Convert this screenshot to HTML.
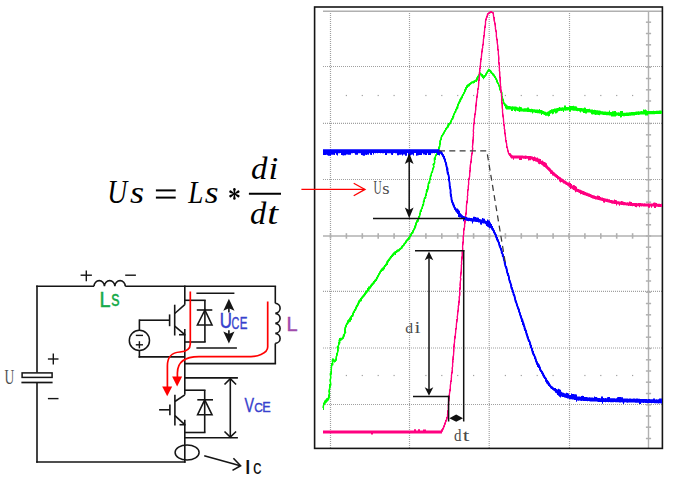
<!DOCTYPE html>
<html><head><meta charset="utf-8"><style>
html,body{margin:0;padding:0;background:#fff;width:684px;height:482px;overflow:hidden;}
svg{display:block;font-family:"Liberation Sans",sans-serif;}
</style></head><body>
<svg width="684" height="482" viewBox="0 0 684 482">
<line x1="330.5" y1="13" x2="330.5" y2="448" stroke="#a0a0a0" stroke-width="1.2" stroke-dasharray="1 1"/>
<line x1="409.5" y1="13" x2="409.5" y2="448" stroke="#a0a0a0" stroke-width="1.2" stroke-dasharray="1 1"/>
<line x1="489.2" y1="13" x2="489.2" y2="448" stroke="#a0a0a0" stroke-width="1.2" stroke-dasharray="1 1"/>
<line x1="569.5" y1="13" x2="569.5" y2="448" stroke="#a0a0a0" stroke-width="1.2" stroke-dasharray="1 1"/>
<line x1="323" y1="66.5" x2="662" y2="66.5" stroke="#a0a0a0" stroke-width="1.2" stroke-dasharray="1 1"/>
<line x1="323" y1="123.3" x2="662" y2="123.3" stroke="#a0a0a0" stroke-width="1.2" stroke-dasharray="1 1"/>
<line x1="323" y1="179.5" x2="662" y2="179.5" stroke="#a0a0a0" stroke-width="1.2" stroke-dasharray="1 1"/>
<line x1="323" y1="291.4" x2="662" y2="291.4" stroke="#a0a0a0" stroke-width="1.2" stroke-dasharray="1 1"/>
<line x1="323" y1="348.0" x2="662" y2="348.0" stroke="#a0a0a0" stroke-width="1.2" stroke-dasharray="1 1"/>
<line x1="323" y1="404.5" x2="662" y2="404.5" stroke="#a0a0a0" stroke-width="1.2" stroke-dasharray="1 1"/>
<line x1="323" y1="11.3" x2="662" y2="11.3" stroke="#b0b0b0" stroke-width="1.4"/>
<line x1="323" y1="235.9" x2="662" y2="235.9" stroke="#b0b0b0" stroke-width="1.5"/>
<line x1="330.5" y1="233.2" x2="330.5" y2="238.7" stroke="#b0b0b0" stroke-width="1.6"/>
<line x1="346.4" y1="233.2" x2="346.4" y2="238.7" stroke="#b0b0b0" stroke-width="1.6"/>
<line x1="362.3" y1="233.2" x2="362.3" y2="238.7" stroke="#b0b0b0" stroke-width="1.6"/>
<line x1="378.2" y1="233.2" x2="378.2" y2="238.7" stroke="#b0b0b0" stroke-width="1.6"/>
<line x1="394.1" y1="233.2" x2="394.1" y2="238.7" stroke="#b0b0b0" stroke-width="1.6"/>
<line x1="410.0" y1="233.2" x2="410.0" y2="238.7" stroke="#b0b0b0" stroke-width="1.6"/>
<line x1="425.9" y1="233.2" x2="425.9" y2="238.7" stroke="#b0b0b0" stroke-width="1.6"/>
<line x1="441.8" y1="233.2" x2="441.8" y2="238.7" stroke="#b0b0b0" stroke-width="1.6"/>
<line x1="457.7" y1="233.2" x2="457.7" y2="238.7" stroke="#b0b0b0" stroke-width="1.6"/>
<line x1="473.6" y1="233.2" x2="473.6" y2="238.7" stroke="#b0b0b0" stroke-width="1.6"/>
<line x1="489.5" y1="233.2" x2="489.5" y2="238.7" stroke="#b0b0b0" stroke-width="1.6"/>
<line x1="505.4" y1="233.2" x2="505.4" y2="238.7" stroke="#b0b0b0" stroke-width="1.6"/>
<line x1="521.3" y1="233.2" x2="521.3" y2="238.7" stroke="#b0b0b0" stroke-width="1.6"/>
<line x1="537.2" y1="233.2" x2="537.2" y2="238.7" stroke="#b0b0b0" stroke-width="1.6"/>
<line x1="553.1" y1="233.2" x2="553.1" y2="238.7" stroke="#b0b0b0" stroke-width="1.6"/>
<line x1="569.0" y1="233.2" x2="569.0" y2="238.7" stroke="#b0b0b0" stroke-width="1.6"/>
<line x1="584.9" y1="233.2" x2="584.9" y2="238.7" stroke="#b0b0b0" stroke-width="1.6"/>
<line x1="600.8" y1="233.2" x2="600.8" y2="238.7" stroke="#b0b0b0" stroke-width="1.6"/>
<line x1="616.7" y1="233.2" x2="616.7" y2="238.7" stroke="#b0b0b0" stroke-width="1.6"/>
<line x1="632.6" y1="233.2" x2="632.6" y2="238.7" stroke="#b0b0b0" stroke-width="1.6"/>
<line x1="648.5" y1="11" x2="648.5" y2="448" stroke="#b0b0b0" stroke-width="1.4"/>
<line x1="645.9" y1="22.2" x2="651.1" y2="22.2" stroke="#b0b0b0" stroke-width="1.5"/>
<line x1="645.9" y1="33.5" x2="651.1" y2="33.5" stroke="#b0b0b0" stroke-width="1.5"/>
<line x1="645.9" y1="44.8" x2="651.1" y2="44.8" stroke="#b0b0b0" stroke-width="1.5"/>
<line x1="645.9" y1="56.0" x2="651.1" y2="56.0" stroke="#b0b0b0" stroke-width="1.5"/>
<line x1="645.9" y1="67.2" x2="651.1" y2="67.2" stroke="#b0b0b0" stroke-width="1.5"/>
<line x1="645.9" y1="78.5" x2="651.1" y2="78.5" stroke="#b0b0b0" stroke-width="1.5"/>
<line x1="645.9" y1="89.8" x2="651.1" y2="89.8" stroke="#b0b0b0" stroke-width="1.5"/>
<line x1="645.9" y1="101.0" x2="651.1" y2="101.0" stroke="#b0b0b0" stroke-width="1.5"/>
<line x1="645.9" y1="112.2" x2="651.1" y2="112.2" stroke="#b0b0b0" stroke-width="1.5"/>
<line x1="645.9" y1="123.5" x2="651.1" y2="123.5" stroke="#b0b0b0" stroke-width="1.5"/>
<line x1="645.9" y1="134.8" x2="651.1" y2="134.8" stroke="#b0b0b0" stroke-width="1.5"/>
<line x1="645.9" y1="146.0" x2="651.1" y2="146.0" stroke="#b0b0b0" stroke-width="1.5"/>
<line x1="645.9" y1="157.2" x2="651.1" y2="157.2" stroke="#b0b0b0" stroke-width="1.5"/>
<line x1="645.9" y1="168.5" x2="651.1" y2="168.5" stroke="#b0b0b0" stroke-width="1.5"/>
<line x1="645.9" y1="179.8" x2="651.1" y2="179.8" stroke="#b0b0b0" stroke-width="1.5"/>
<line x1="645.9" y1="191.0" x2="651.1" y2="191.0" stroke="#b0b0b0" stroke-width="1.5"/>
<line x1="645.9" y1="202.2" x2="651.1" y2="202.2" stroke="#b0b0b0" stroke-width="1.5"/>
<line x1="645.9" y1="213.5" x2="651.1" y2="213.5" stroke="#b0b0b0" stroke-width="1.5"/>
<line x1="645.9" y1="224.8" x2="651.1" y2="224.8" stroke="#b0b0b0" stroke-width="1.5"/>
<line x1="645.9" y1="236.0" x2="651.1" y2="236.0" stroke="#b0b0b0" stroke-width="1.5"/>
<line x1="645.9" y1="247.2" x2="651.1" y2="247.2" stroke="#b0b0b0" stroke-width="1.5"/>
<line x1="645.9" y1="258.5" x2="651.1" y2="258.5" stroke="#b0b0b0" stroke-width="1.5"/>
<line x1="645.9" y1="269.8" x2="651.1" y2="269.8" stroke="#b0b0b0" stroke-width="1.5"/>
<line x1="645.9" y1="281.0" x2="651.1" y2="281.0" stroke="#b0b0b0" stroke-width="1.5"/>
<line x1="645.9" y1="292.2" x2="651.1" y2="292.2" stroke="#b0b0b0" stroke-width="1.5"/>
<line x1="645.9" y1="303.5" x2="651.1" y2="303.5" stroke="#b0b0b0" stroke-width="1.5"/>
<line x1="645.9" y1="314.8" x2="651.1" y2="314.8" stroke="#b0b0b0" stroke-width="1.5"/>
<line x1="645.9" y1="326.0" x2="651.1" y2="326.0" stroke="#b0b0b0" stroke-width="1.5"/>
<line x1="645.9" y1="337.2" x2="651.1" y2="337.2" stroke="#b0b0b0" stroke-width="1.5"/>
<line x1="645.9" y1="348.5" x2="651.1" y2="348.5" stroke="#b0b0b0" stroke-width="1.5"/>
<line x1="645.9" y1="359.8" x2="651.1" y2="359.8" stroke="#b0b0b0" stroke-width="1.5"/>
<line x1="645.9" y1="371.0" x2="651.1" y2="371.0" stroke="#b0b0b0" stroke-width="1.5"/>
<line x1="645.9" y1="382.2" x2="651.1" y2="382.2" stroke="#b0b0b0" stroke-width="1.5"/>
<line x1="645.9" y1="393.5" x2="651.1" y2="393.5" stroke="#b0b0b0" stroke-width="1.5"/>
<line x1="645.9" y1="404.8" x2="651.1" y2="404.8" stroke="#b0b0b0" stroke-width="1.5"/>
<line x1="645.9" y1="416.0" x2="651.1" y2="416.0" stroke="#b0b0b0" stroke-width="1.5"/>
<line x1="645.9" y1="427.2" x2="651.1" y2="427.2" stroke="#b0b0b0" stroke-width="1.5"/>
<line x1="645.9" y1="438.5" x2="651.1" y2="438.5" stroke="#b0b0b0" stroke-width="1.5"/>
<rect x="345.8" y="94.9" width="1.2" height="1.2" fill="#a0a0a0"/>
<rect x="361.7" y="94.9" width="1.2" height="1.2" fill="#a0a0a0"/>
<rect x="377.6" y="94.9" width="1.2" height="1.2" fill="#a0a0a0"/>
<rect x="393.5" y="94.9" width="1.2" height="1.2" fill="#a0a0a0"/>
<rect x="425.3" y="94.9" width="1.2" height="1.2" fill="#a0a0a0"/>
<rect x="441.2" y="94.9" width="1.2" height="1.2" fill="#a0a0a0"/>
<rect x="457.1" y="94.9" width="1.2" height="1.2" fill="#a0a0a0"/>
<rect x="473.0" y="94.9" width="1.2" height="1.2" fill="#a0a0a0"/>
<rect x="504.8" y="94.9" width="1.2" height="1.2" fill="#a0a0a0"/>
<rect x="520.7" y="94.9" width="1.2" height="1.2" fill="#a0a0a0"/>
<rect x="536.6" y="94.9" width="1.2" height="1.2" fill="#a0a0a0"/>
<rect x="552.5" y="94.9" width="1.2" height="1.2" fill="#a0a0a0"/>
<rect x="584.3" y="94.9" width="1.2" height="1.2" fill="#a0a0a0"/>
<rect x="600.2" y="94.9" width="1.2" height="1.2" fill="#a0a0a0"/>
<rect x="616.1" y="94.9" width="1.2" height="1.2" fill="#a0a0a0"/>
<rect x="632.0" y="94.9" width="1.2" height="1.2" fill="#a0a0a0"/>
<rect x="345.8" y="374.9" width="1.2" height="1.2" fill="#a0a0a0"/>
<rect x="361.7" y="374.9" width="1.2" height="1.2" fill="#a0a0a0"/>
<rect x="377.6" y="374.9" width="1.2" height="1.2" fill="#a0a0a0"/>
<rect x="393.5" y="374.9" width="1.2" height="1.2" fill="#a0a0a0"/>
<rect x="425.3" y="374.9" width="1.2" height="1.2" fill="#a0a0a0"/>
<rect x="441.2" y="374.9" width="1.2" height="1.2" fill="#a0a0a0"/>
<rect x="457.1" y="374.9" width="1.2" height="1.2" fill="#a0a0a0"/>
<rect x="473.0" y="374.9" width="1.2" height="1.2" fill="#a0a0a0"/>
<rect x="504.8" y="374.9" width="1.2" height="1.2" fill="#a0a0a0"/>
<rect x="520.7" y="374.9" width="1.2" height="1.2" fill="#a0a0a0"/>
<rect x="536.6" y="374.9" width="1.2" height="1.2" fill="#a0a0a0"/>
<rect x="552.5" y="374.9" width="1.2" height="1.2" fill="#a0a0a0"/>
<rect x="584.3" y="374.9" width="1.2" height="1.2" fill="#a0a0a0"/>
<rect x="600.2" y="374.9" width="1.2" height="1.2" fill="#a0a0a0"/>
<rect x="616.1" y="374.9" width="1.2" height="1.2" fill="#a0a0a0"/>
<rect x="632.0" y="374.9" width="1.2" height="1.2" fill="#a0a0a0"/>
<rect x="314.6" y="7.0" width="347.8" height="441.4" fill="none" stroke="#151515" stroke-width="1.6"/>
<path d="M323,402.6h1V410.1h-1zM324,400.5h1V404.7h-1zM325,399.4h1V403.5h-1zM326,398.3h1V402.5h-1zM327,397.7h1V401.5h-1zM328,395.0h1V400.6h-1zM329,384.0h1V397.7h-1zM330,372.6h1V386.8h-1zM331,362.9h1V374.7h-1zM332,358.4h1V364.9h-1zM333,358.5h1V361.8h-1zM334,359.6h1V362.5h-1zM335,358.5h1V361.9h-1zM336,353.1h1V360.7h-1zM337,346.7h1V355.1h-1zM338,341.7h1V348.7h-1zM339,338.0h1V344.0h-1zM340,337.8h1V341.1h-1zM341,337.7h1V340.5h-1zM342,336.6h1V339.6h-1zM343,334.3h1V338.8h-1zM344,330.5h1V336.5h-1zM345,325.0h1V332.5h-1zM346,322.7h1V327.2h-1zM347,320.2h1V324.8h-1zM348,319.2h1V323.5h-1zM349,317.8h1V322.3h-1zM350,316.8h1V321.8h-1zM351,315.0h1V319.9h-1zM352,313.0h1V317.0h-1zM353,310.8h1V314.9h-1zM354,308.9h1V313.0h-1zM355,307.0h1V310.9h-1zM356,305.0h1V309.0h-1zM357,303.3h1V307.3h-1zM358,300.6h1V305.4h-1zM359,299.6h1V303.6h-1zM360,297.9h1V301.7h-1zM361,296.8h1V301.2h-1zM362,295.6h1V298.8h-1zM363,294.3h1V297.6h-1zM364,293.0h1V296.3h-1zM365,290.7h1V295.0h-1zM366,290.2h1V293.7h-1zM367,287.9h1V292.4h-1zM368,286.5h1V291.0h-1zM369,286.2h1V289.6h-1zM370,284.7h1V288.4h-1zM371,283.5h1V287.0h-1zM372,282.4h1V285.8h-1zM373,281.1h1V284.6h-1zM374,280.0h1V283.2h-1zM375,278.9h1V282.0h-1zM376,277.1h1V280.9h-1zM377,275.2h1V279.3h-1zM378,273.3h1V277.3h-1zM379,271.4h1V275.3h-1zM380,270.2h1V273.5h-1zM381,268.7h1V272.0h-1zM382,267.5h1V271.0h-1zM383,266.5h1V270.4h-1zM384,265.0h1V269.3h-1zM385,263.8h1V267.0h-1zM386,262.2h1V265.8h-1zM387,260.6h1V265.1h-1zM388,259.1h1V262.6h-1zM389,257.4h1V261.0h-1zM390,256.1h1V259.5h-1zM391,254.8h1V258.2h-1zM392,253.5h1V256.9h-1zM393,252.5h1V255.6h-1zM394,251.4h1V254.3h-1zM395,251.1h1V254.9h-1zM396,250.3h1V253.1h-1zM397,249.7h1V252.3h-1zM398,249.2h1V251.8h-1zM399,248.2h1V251.3h-1zM400,247.4h1V250.0h-1zM401,246.2h1V249.0h-1zM402,245.0h1V247.8h-1zM403,243.6h1V246.4h-1zM404,242.4h1V245.4h-1zM405,241.1h1V244.1h-1zM406,239.6h1V242.7h-1zM407,238.2h1V241.2h-1zM408,236.9h1V240.0h-1zM409,235.4h1V238.5h-1zM410,233.8h1V237.0h-1zM411,232.1h1V235.4h-1zM412,230.2h1V233.6h-1zM413,228.6h1V231.9h-1zM414,225.4h1V230.2h-1zM415,222.8h1V227.8h-1zM416,220.3h1V225.2h-1zM417,218.5h1V222.6h-1zM418,215.9h1V220.1h-1zM419,213.1h1V217.5h-1zM420,210.3h1V214.7h-1zM421,207.6h1V212.0h-1zM422,204.1h1V209.1h-1zM423,200.6h1V205.8h-1zM424,197.1h1V202.2h-1zM425,193.7h1V198.8h-1zM426,189.1h1V195.9h-1zM427,185.4h1V192.3h-1zM428,181.4h1V187.6h-1zM429,178.3h1V183.6h-1zM430,175.0h1V179.8h-1zM431,171.6h1V176.5h-1zM432,167.8h1V173.1h-1zM433,163.2h1V169.5h-1zM434,158.5h1V164.8h-1zM435,154.4h1V160.0h-1zM436,152.3h1V156.0h-1zM437,150.3h1V153.9h-1zM438,146.5h1V151.9h-1zM439,142.4h1V148.9h-1zM440,138.4h1V144.8h-1zM441,135.0h1V139.9h-1zM442,133.4h1V136.6h-1zM443,131.7h1V135.0h-1zM444,129.9h1V133.3h-1zM445,128.1h1V131.5h-1zM446,126.7h1V129.8h-1zM447,124.4h1V128.2h-1zM448,123.1h1V126.8h-1zM449,122.6h1V125.5h-1zM450,120.4h1V124.2h-1zM451,118.2h1V122.0h-1zM452,115.8h1V119.6h-1zM453,113.5h1V117.5h-1zM454,111.3h1V115.1h-1zM455,108.9h1V112.9h-1zM456,106.5h1V110.5h-1zM457,103.7h1V109.2h-1zM458,101.6h1V105.9h-1zM459,99.5h1V103.8h-1zM460,97.4h1V101.8h-1zM461,96.2h1V99.7h-1zM462,94.3h1V97.9h-1zM463,92.2h1V95.7h-1zM464,89.2h1V93.7h-1zM465,87.2h1V91.8h-1zM466,85.2h1V89.8h-1zM467,84.4h1V87.9h-1zM468,83.7h1V86.8h-1zM469,82.9h1V86.2h-1zM470,82.3h1V84.5h-1zM471,81.6h1V83.9h-1zM472,81.2h1V83.2h-1zM473,80.7h1V83.6h-1zM474,80.2h1V83.1h-1zM475,79.7h1V81.8h-1zM476,77.6h1V81.9h-1zM477,75.7h1V80.5h-1zM478,74.2h1V78.5h-1zM479,72.3h1V75.9h-1zM480,72.4h1V75.2h-1zM481,73.6h1V76.6h-1zM482,73.9h1V77.9h-1zM483,75.3h1V79.3h-1zM484,74.9h1V77.9h-1zM485,73.4h1V76.5h-1zM486,71.8h1V75.0h-1zM487,70.4h1V73.4h-1zM488,68.8h1V71.9h-1zM489,68.9h1V71.7h-1zM490,70.0h1V72.9h-1zM491,71.3h1V74.1h-1zM492,72.5h1V75.4h-1zM493,73.6h1V76.4h-1zM494,75.0h1V78.0h-1zM495,76.2h1V79.8h-1zM496,78.3h1V81.9h-1zM497,80.3h1V84.0h-1zM498,82.4h1V86.5h-1zM499,84.9h1V89.5h-1zM500,88.0h1V92.7h-1zM501,91.2h1V97.1h-1zM502,95.7h1V100.9h-1zM503,99.2h1V104.1h-1zM504,102.4h1V106.0h-1zM505,103.5h1V108.4h-1zM506,104.4h1V109.4h-1zM507,105.4h1V109.6h-1zM508,106.1h1V109.5h-1zM509,106.1h1V109.5h-1zM510,106.3h1V109.5h-1zM511,106.4h1V110.9h-1zM512,106.2h1V111.1h-1zM513,106.4h1V109.8h-1zM514,106.5h1V111.0h-1zM515,106.5h1V111.6h-1zM516,106.8h1V110.6h-1zM517,107.2h1V110.9h-1zM518,107.6h1V111.2h-1zM519,106.6h1V112.0h-1zM520,106.9h1V111.5h-1zM521,107.2h1V111.6h-1zM522,108.5h1V111.6h-1zM523,108.5h1V111.7h-1zM524,108.3h1V111.7h-1zM525,108.3h1V111.8h-1zM526,108.3h1V111.7h-1zM527,107.6h1V111.9h-1zM528,107.5h1V112.1h-1zM529,108.7h1V112.1h-1zM530,108.9h1V112.3h-1zM531,108.7h1V112.2h-1zM532,108.9h1V113.6h-1zM533,109.2h1V112.5h-1zM534,109.3h1V112.6h-1zM535,109.5h1V113.0h-1zM536,109.6h1V113.0h-1zM537,109.6h1V113.2h-1zM538,109.8h1V113.2h-1zM539,109.0h1V113.5h-1zM540,110.1h1V113.5h-1zM541,110.1h1V115.0h-1zM542,110.4h1V114.1h-1zM543,110.9h1V114.6h-1zM544,111.5h1V115.0h-1zM545,111.8h1V115.8h-1zM546,112.3h1V115.8h-1zM547,111.7h1V115.7h-1zM548,111.2h1V116.4h-1zM549,110.4h1V115.9h-1zM550,110.0h1V113.8h-1zM551,109.3h1V113.2h-1zM552,109.2h1V114.2h-1zM553,108.9h1V113.7h-1zM554,108.6h1V112.2h-1zM555,108.4h1V113.5h-1zM556,108.2h1V113.2h-1zM557,107.9h1V112.5h-1zM558,107.7h1V111.2h-1zM559,106.9h1V111.0h-1zM560,107.5h1V110.8h-1zM561,107.4h1V110.9h-1zM562,107.3h1V110.8h-1zM563,107.4h1V111.9h-1zM564,105.5h1V110.6h-1zM565,105.6h1V110.7h-1zM566,107.1h1V110.6h-1zM567,107.0h1V110.4h-1zM568,106.9h1V110.3h-1zM569,105.9h1V111.8h-1zM570,106.0h1V111.8h-1zM571,106.1h1V110.3h-1zM572,106.0h1V110.4h-1zM573,105.7h1V110.7h-1zM574,106.2h1V110.8h-1zM575,106.3h1V110.8h-1zM576,106.4h1V111.0h-1zM577,107.7h1V111.2h-1zM578,107.9h1V111.1h-1zM579,107.9h1V111.4h-1zM580,108.1h1V112.4h-1zM581,108.0h1V111.6h-1zM582,108.3h1V111.7h-1zM583,108.3h1V113.0h-1zM584,107.4h1V113.1h-1zM585,107.7h1V113.6h-1zM586,108.9h1V113.6h-1zM587,108.9h1V112.4h-1zM588,108.9h1V112.5h-1zM589,108.7h1V112.5h-1zM590,109.4h1V112.7h-1zM591,109.4h1V114.3h-1zM592,109.6h1V114.4h-1zM593,109.9h1V114.2h-1zM594,109.8h1V114.4h-1zM595,110.0h1V114.9h-1zM596,110.2h1V114.7h-1zM597,110.3h1V114.8h-1zM598,110.4h1V114.9h-1zM599,110.6h1V115.2h-1zM600,110.8h1V114.5h-1zM601,111.2h1V114.5h-1zM602,111.3h1V114.7h-1zM603,111.4h1V114.9h-1zM604,111.6h1V114.9h-1zM605,111.5h1V114.9h-1zM606,111.8h1V115.2h-1zM607,111.8h1V115.2h-1zM608,111.7h1V115.2h-1zM609,110.5h1V115.4h-1zM610,112.0h1V115.4h-1zM611,111.9h1V116.6h-1zM612,111.3h1V116.6h-1zM613,111.3h1V116.5h-1zM614,111.0h1V116.5h-1zM615,110.9h1V116.5h-1zM616,112.3h1V115.7h-1zM617,112.4h1V115.6h-1zM618,112.3h1V115.9h-1zM619,112.5h1V115.9h-1zM620,111.0h1V117.4h-1zM621,111.0h1V117.2h-1zM622,111.0h1V115.9h-1zM623,112.7h1V116.2h-1zM624,112.8h1V116.2h-1zM625,112.8h1V116.0h-1zM626,112.6h1V116.1h-1zM627,112.4h1V116.0h-1zM628,112.4h1V116.0h-1zM629,112.2h1V115.7h-1zM630,112.2h1V115.7h-1zM631,112.1h1V115.5h-1zM632,112.0h1V115.4h-1zM633,112.1h1V115.5h-1zM634,111.9h1V115.4h-1zM635,111.7h1V115.1h-1zM636,111.6h1V114.9h-1zM637,111.5h1V114.8h-1zM638,111.3h1V115.0h-1zM639,111.4h1V114.7h-1zM640,111.2h1V114.5h-1zM641,111.1h1V114.6h-1zM642,111.3h1V114.6h-1zM643,109.6h1V114.5h-1zM644,109.7h1V114.5h-1zM645,109.5h1V115.4h-1zM646,110.3h1V115.4h-1zM647,110.9h1V115.4h-1zM648,110.9h1V114.3h-1zM649,111.0h1V114.2h-1zM650,111.1h1V114.2h-1zM651,110.9h1V114.2h-1zM652,110.9h1V114.2h-1zM653,110.8h1V114.3h-1zM654,110.9h1V114.3h-1zM655,110.9h1V114.1h-1zM656,110.7h1V114.1h-1zM657,110.8h1V113.9h-1zM658,110.8h1V114.0h-1zM659,110.5h1V114.0h-1zM660,110.6h1V114.0h-1zM661,110.7h1V113.8h-1z" fill="#00ff00"/>
<polyline points="323.0,408.0 323.4,405.9 324.0,403.7 326.0,402.0 326.9,400.4 328.8,398.8 329.0,397.1 328.7,395.2 329.5,393.8 328.9,391.3 329.1,390.2 329.8,388.0 330.2,385.5 330.8,385.0 330.5,382.7 330.0,380.1 330.7,378.3 330.8,377.1 330.5,375.1 330.3,373.8 331.0,372.7 331.2,370.8 331.3,369.2 331.4,367.3 331.6,365.4 332.7,364.8 332.7,362.9 332.3,360.6 332.8,359.4 334.7,361.4 336.1,359.4 336.1,356.8 337.1,355.3 337.1,353.5 337.9,351.4 338.3,350.0 337.3,347.2 338.3,345.6 339.3,343.8 339.9,342.0 339.1,340.6 340.1,338.7 342.6,338.7 343.7,336.7 343.4,335.2 344.6,333.8 345.6,332.4 344.7,329.9 345.0,327.8 346.3,326.2 346.2,324.9 347.3,323.5 347.8,322.6 348.7,321.1 350.2,319.6 350.4,318.0 351.2,316.4 353.0,315.7 352.8,314.3 353.4,312.2 354.5,310.9 355.8,309.5 355.6,308.5 356.6,305.9 358.2,304.4 358.4,302.5 358.9,301.7 360.3,300.0 361.0,298.7 362.3,297.1 364.2,295.7 364.8,294.8 365.4,292.4 366.9,291.5 368.6,290.4 368.7,288.0 370.5,287.5 371.3,285.4 372.1,284.6 374.3,282.6 374.9,280.5 376.3,279.6 376.4,278.8 377.4,277.0 378.2,275.7 379.4,273.6 380.0,272.4 380.7,271.2 381.7,269.1 383.6,268.5 384.8,266.3 385.8,265.1 387.3,263.3 386.9,262.0 388.4,260.3 388.9,259.4 390.2,258.2 391.3,256.4 392.1,256.1 393.9,254.5 394.3,253.0 396.3,252.1 397.3,250.3 399.5,249.9 399.9,249.2 401.9,248.1 401.9,246.4 403.6,245.3 404.7,243.7 405.5,242.9 406.2,240.8 408.2,239.9 409.2,238.1 409.9,236.4 411.2,235.5 411.4,233.8 413.0,232.6 413.1,231.0 414.1,229.2 415.3,227.6 415.6,225.6 416.3,224.2 416.2,222.5 418.2,221.1 418.2,218.8 419.2,216.9 419.8,215.4 420.0,214.1 420.2,212.2 420.7,210.3 422.0,208.4 422.4,206.5 423.2,205.3 423.5,204.3 423.5,201.5 424.0,200.8 424.3,198.6 425.7,197.7 425.5,196.5 425.8,194.6 426.5,192.8 426.5,190.9 427.8,189.8 428.4,187.3 428.4,185.5 428.2,183.9 429.6,182.7 429.6,180.4 430.4,179.3 430.3,176.5 431.1,174.9 431.3,173.3 432.4,171.7 432.7,170.0 432.8,168.9 434.1,166.7 433.1,164.5 434.6,163.0 434.7,162.1 434.5,160.8 434.4,158.3 435.4,156.5 435.8,155.6 437.0,153.6 436.8,151.8 438.1,150.8 438.7,149.1 439.1,147.8 439.7,146.6 440.0,144.0 440.1,142.4 439.8,141.2 441.2,139.2 441.0,137.8 441.7,136.4 442.9,134.8 443.8,133.4 444.4,131.8 446.1,129.2 446.5,128.1 448.3,126.8 448.4,124.8 450.1,123.3 451.0,122.2 451.4,120.1 452.8,118.7 453.6,116.6 453.7,115.0 454.6,113.0 455.4,112.4 455.9,110.7 456.0,109.4 457.7,108.0 457.8,106.1 458.4,104.2 458.9,103.2 460.5,100.8 460.2,99.3 461.7,98.2 462.4,95.5 463.2,94.6 464.4,92.4 465.2,91.0 465.4,90.3 465.9,87.8 467.2,87.0 468.0,85.1 470.3,84.2 471.6,82.7 473.8,81.9 475.4,80.5 476.4,80.3 476.7,78.9 477.5,77.7 478.8,76.0 479.8,74.6 480.0,73.1 480.9,74.5 482.8,76.9 483.5,77.9 484.0,77.0 486.0,75.2 486.4,73.3 487.2,72.4 488.2,70.3 489.0,69.6 490.8,71.0 491.2,72.9 492.6,73.8 493.9,74.7 494.8,76.7 495.6,78.0 496.9,80.2 496.6,81.0 497.2,82.4 498.4,83.9 499.4,86.3 499.6,87.2 499.8,89.5 500.8,91.1 501.8,92.4 502.0,94.0 501.6,96.0 502.4,98.2 503.3,100.0 503.5,102.4 504.3,104.2 505.5,106.0 506.7,107.8 508.5,107.8 510.3,107.9 512.1,108.0 513.9,108.0 515.7,108.5 517.5,109.0 519.3,109.5 521.1,110.0 522.9,110.0 524.7,110.1 526.5,110.2 528.3,110.2 530.2,110.4 532.1,110.7 534.0,110.9 535.9,111.2 537.8,111.4 539.9,111.7 542.0,112.0 543.5,112.8 545.0,113.5 546.5,114.3 547.9,113.5 549.2,112.7 550.6,111.8 552.0,111.0 554.0,110.5 556.0,110.0 558.0,109.5 559.7,109.4 561.4,109.2 563.1,109.1 564.9,108.9 566.6,108.8 568.3,108.6 570.0,108.5 571.7,108.7 573.4,108.9 575.1,109.1 576.8,109.3 578.5,109.5 580.2,109.7 581.9,109.9 583.6,110.1 585.3,110.3 587.0,110.5 588.6,110.8 590.3,111.0 591.9,111.3 593.5,111.5 595.2,111.8 596.8,112.0 598.5,112.3 600.1,112.5 601.7,112.8 603.4,113.0 605.0,113.3 606.7,113.4 608.3,113.5 610.0,113.6 611.7,113.7 613.3,113.8 615.0,113.9 616.7,114.0 618.3,114.1 620.0,114.2 621.7,114.3 623.3,114.4 625.0,114.5 626.7,114.3 628.3,114.2 630.0,114.0 631.7,113.8 633.3,113.7 635.0,113.5 636.7,113.3 638.3,113.2 640.0,113.0 641.7,112.9 643.3,112.9 645.0,112.8 646.6,112.8 648.3,112.7 649.9,112.6 651.6,112.6 653.2,112.5 654.9,112.4 656.5,112.4 658.2,112.3 659.8,112.3 661.5,112.2" fill="none" stroke="#00ff00" stroke-width="1.5" stroke-linejoin="round"/>
<path d="M323,430.4h1V433.6h-1zM324,430.4h1V433.5h-1zM325,430.5h1V433.5h-1zM326,430.5h1V433.5h-1zM327,430.5h1V433.6h-1zM328,430.5h1V433.5h-1zM329,430.4h1V433.5h-1zM330,430.5h1V433.6h-1zM331,430.5h1V433.5h-1zM332,430.5h1V433.6h-1zM333,430.5h1V433.6h-1zM334,430.4h1V433.5h-1zM335,430.4h1V433.6h-1zM336,430.4h1V433.5h-1zM337,430.5h1V433.5h-1zM338,430.5h1V433.6h-1zM339,430.4h1V433.5h-1zM340,430.5h1V433.6h-1zM341,430.5h1V433.6h-1zM342,430.5h1V433.5h-1zM343,430.5h1V433.5h-1zM344,430.5h1V433.6h-1zM345,430.4h1V433.6h-1zM346,430.5h1V433.6h-1zM347,430.4h1V433.5h-1zM348,430.4h1V433.6h-1zM349,430.5h1V433.5h-1zM350,430.4h1V433.6h-1zM351,430.5h1V433.6h-1zM352,430.5h1V433.6h-1zM353,430.4h1V433.5h-1zM354,430.4h1V433.6h-1zM355,430.4h1V433.5h-1zM356,430.4h1V433.6h-1zM357,430.5h1V433.5h-1zM358,430.5h1V433.5h-1zM359,430.4h1V433.6h-1zM360,430.4h1V433.5h-1zM361,430.5h1V433.5h-1zM362,430.5h1V433.6h-1zM363,430.4h1V433.5h-1zM364,430.5h1V433.6h-1zM365,430.4h1V433.5h-1zM366,430.4h1V433.6h-1zM367,430.4h1V433.5h-1zM368,430.4h1V433.6h-1zM369,430.5h1V433.6h-1zM370,430.4h1V433.6h-1zM371,430.4h1V434.6h-1zM372,430.4h1V434.6h-1zM373,430.5h1V433.6h-1zM374,430.4h1V433.6h-1zM375,430.4h1V433.6h-1zM376,430.5h1V433.6h-1zM377,430.5h1V433.5h-1zM378,430.5h1V433.6h-1zM379,430.4h1V433.6h-1zM380,430.5h1V433.6h-1zM381,430.4h1V433.5h-1zM382,430.4h1V433.5h-1zM383,430.4h1V433.5h-1zM384,430.4h1V433.5h-1zM385,430.4h1V433.5h-1zM386,430.5h1V433.5h-1zM387,430.5h1V433.5h-1zM388,430.5h1V433.6h-1zM389,430.5h1V433.5h-1zM390,430.4h1V433.6h-1zM391,430.5h1V433.5h-1zM392,430.4h1V433.6h-1zM393,430.4h1V433.5h-1zM394,430.5h1V433.5h-1zM395,430.5h1V433.5h-1zM396,430.4h1V433.5h-1zM397,430.5h1V433.5h-1zM398,430.5h1V433.6h-1zM399,430.5h1V433.5h-1zM400,430.4h1V433.6h-1zM401,430.4h1V433.5h-1zM402,430.5h1V433.5h-1zM403,430.4h1V433.5h-1zM404,430.5h1V433.5h-1zM405,430.4h1V433.5h-1zM406,430.5h1V433.6h-1zM407,430.4h1V433.5h-1zM408,430.4h1V433.5h-1zM409,430.5h1V433.6h-1zM410,430.5h1V433.5h-1zM411,430.5h1V433.5h-1zM412,430.5h1V433.5h-1zM413,430.5h1V433.6h-1zM414,429.2h1V433.6h-1zM415,429.2h1V433.6h-1zM416,430.4h1V433.5h-1zM417,430.4h1V433.5h-1zM418,429.3h1V433.5h-1zM419,429.3h1V433.5h-1zM420,430.5h1V433.6h-1zM421,430.5h1V433.6h-1zM422,430.4h1V433.6h-1zM423,429.5h1V433.5h-1zM424,429.4h1V433.5h-1zM425,429.4h1V433.5h-1zM426,430.5h1V433.5h-1zM427,430.4h1V433.5h-1zM428,430.4h1V433.5h-1zM429,430.4h1V433.5h-1zM430,430.5h1V433.5h-1zM431,430.4h1V433.5h-1zM432,430.4h1V433.5h-1zM433,430.4h1V433.6h-1zM434,430.5h1V433.6h-1zM435,430.4h1V433.5h-1zM436,430.5h1V433.5h-1zM437,430.5h1V433.5h-1zM438,430.5h1V433.5h-1zM439,430.5h1V433.5h-1zM440,430.4h1V433.5h-1zM441,429.3h1V433.6h-1zM442,427.8h1V431.5h-1zM443,425.5h1V429.2h-1zM444,422.9h1V426.9h-1zM445,419.9h1V424.4h-1zM446,416.9h1V421.4h-1zM447,410.2h1V418.4h-1zM448,398.0h1V411.8h-1zM449,389.3h1V399.2h-1zM450,380.6h1V391.0h-1zM451,371.9h1V381.9h-1zM452,358.7h1V373.2h-1zM453,345.7h1V360.1h-1zM454,336.1h1V347.2h-1zM455,328.1h1V338.3h-1zM456,319.0h1V329.5h-1zM457,310.2h1V320.6h-1zM458,301.1h1V311.4h-1zM459,287.2h1V303.2h-1zM460,272.3h1V289.4h-1zM461,256.6h1V273.6h-1zM462,241.5h1V258.7h-1zM463,228.6h1V243.5h-1zM464,220.3h1V230.4h-1zM465,212.5h1V222.5h-1zM466,200.9h1V214.5h-1zM467,189.2h1V202.9h-1zM468,178.2h1V190.6h-1zM469,169.7h1V179.6h-1zM470,161.1h1V171.1h-1zM471,152.8h1V162.7h-1zM472,139.4h1V154.1h-1zM473,122.7h1V140.7h-1zM474,113.6h1V124.1h-1zM475,104.7h1V115.0h-1zM476,96.3h1V106.2h-1zM477,88.4h1V97.7h-1zM478,79.6h1V89.7h-1zM479,67.7h1V81.1h-1zM480,58.6h1V69.1h-1zM481,50.9h1V60.1h-1zM482,44.2h1V52.3h-1zM483,35.1h1V45.6h-1zM484,26.5h1V36.4h-1zM485,18.7h1V28.0h-1zM486,16.0h1V20.3h-1zM487,13.3h1V17.5h-1zM488,12.4h1V14.6h-1zM489,11.8h1V13.8h-1zM490,11.2h1V13.2h-1zM491,11.0h1V13.0h-1zM492,11.7h1V13.6h-1zM493,12.2h1V18.6h-1zM494,17.1h1V24.5h-1zM495,23.2h1V31.7h-1zM496,30.4h1V40.4h-1zM497,39.1h1V50.5h-1zM498,49.1h1V63.8h-1zM499,62.2h1V78.5h-1zM500,77.0h1V91.7h-1zM501,90.5h1V103.8h-1zM502,102.4h1V116.8h-1zM503,115.4h1V125.6h-1zM504,124.2h1V134.0h-1zM505,132.5h1V141.6h-1zM506,140.0h1V148.0h-1zM507,146.6h1V151.6h-1zM508,150.4h1V154.3h-1zM509,153.1h1V155.7h-1zM510,153.3h1V157.6h-1zM511,154.6h1V158.4h-1zM512,155.2h1V158.4h-1zM513,155.4h1V159.8h-1zM514,155.4h1V158.6h-1zM515,155.4h1V158.6h-1zM516,155.4h1V158.4h-1zM517,155.6h1V158.6h-1zM518,155.6h1V158.5h-1zM519,155.4h1V159.9h-1zM520,155.6h1V159.9h-1zM521,155.5h1V160.0h-1zM522,155.6h1V158.6h-1zM523,155.8h1V158.8h-1zM524,155.7h1V158.8h-1zM525,155.6h1V158.9h-1zM526,155.8h1V158.8h-1zM527,155.9h1V158.8h-1zM528,156.0h1V160.4h-1zM529,156.0h1V160.3h-1zM530,156.0h1V160.3h-1zM531,156.2h1V159.6h-1zM532,156.5h1V160.2h-1zM533,157.0h1V161.3h-1zM534,156.6h1V160.9h-1zM535,157.3h1V161.5h-1zM536,157.7h1V161.8h-1zM537,157.4h1V162.3h-1zM538,158.5h1V163.8h-1zM539,158.8h1V164.2h-1zM540,159.1h1V163.9h-1zM541,160.7h1V164.7h-1zM542,160.6h1V165.5h-1zM543,161.5h1V166.4h-1zM544,161.9h1V166.9h-1zM545,162.5h1V167.8h-1zM546,163.3h1V168.8h-1zM547,165.5h1V169.8h-1zM548,166.7h1V170.8h-1zM549,167.5h1V171.8h-1zM550,168.6h1V173.7h-1zM551,169.7h1V173.9h-1zM552,170.6h1V175.4h-1zM553,171.8h1V175.7h-1zM554,172.5h1V176.5h-1zM555,173.5h1V177.3h-1zM556,174.2h1V178.1h-1zM557,174.9h1V178.9h-1zM558,175.9h1V179.6h-1zM559,176.8h1V181.5h-1zM560,177.3h1V182.4h-1zM561,178.2h1V182.0h-1zM562,178.8h1V182.6h-1zM563,179.4h1V183.4h-1zM564,180.2h1V183.8h-1zM565,180.7h1V184.4h-1zM566,181.5h1V185.1h-1zM567,182.2h1V185.8h-1zM568,182.6h1V186.5h-1zM569,182.3h1V187.2h-1zM570,183.1h1V189.0h-1zM571,183.9h1V188.6h-1zM572,185.5h1V189.2h-1zM573,184.9h1V189.9h-1zM574,185.3h1V190.5h-1zM575,186.1h1V192.3h-1zM576,186.7h1V191.7h-1zM577,188.8h1V192.0h-1zM578,189.1h1V192.5h-1zM579,189.5h1V192.9h-1zM580,189.8h1V194.3h-1zM581,190.3h1V194.0h-1zM582,190.7h1V194.4h-1zM583,191.1h1V194.9h-1zM584,191.5h1V195.3h-1zM585,192.0h1V195.6h-1zM586,192.4h1V196.0h-1zM587,192.8h1V196.3h-1zM588,193.3h1V196.8h-1zM589,193.6h1V197.1h-1zM590,194.1h1V197.4h-1zM591,194.4h1V198.0h-1zM592,194.9h1V198.4h-1zM593,195.2h1V198.7h-1zM594,195.6h1V199.1h-1zM595,196.0h1V199.4h-1zM596,196.2h1V199.4h-1zM597,195.4h1V199.7h-1zM598,195.7h1V199.9h-1zM599,195.9h1V200.2h-1zM600,197.1h1V200.6h-1zM601,197.6h1V200.8h-1zM602,197.5h1V201.1h-1zM603,198.0h1V202.6h-1zM604,198.2h1V202.8h-1zM605,198.5h1V201.7h-1zM606,198.7h1V201.9h-1zM607,198.8h1V202.3h-1zM608,199.3h1V202.5h-1zM609,199.3h1V202.8h-1zM610,199.9h1V203.1h-1zM611,200.0h1V203.4h-1zM612,200.2h1V203.7h-1zM613,200.4h1V203.7h-1zM614,199.6h1V203.9h-1zM615,199.9h1V204.1h-1zM616,200.2h1V205.5h-1zM617,201.2h1V204.3h-1zM618,201.3h1V204.4h-1zM619,201.4h1V205.7h-1zM620,201.6h1V204.7h-1zM621,201.0h1V205.1h-1zM622,201.2h1V205.1h-1zM623,201.8h1V205.3h-1zM624,202.1h1V205.2h-1zM625,202.2h1V205.3h-1zM626,202.4h1V205.5h-1zM627,202.3h1V205.5h-1zM628,202.4h1V205.9h-1zM629,201.4h1V205.8h-1zM630,201.8h1V205.9h-1zM631,201.9h1V206.1h-1zM632,203.0h1V206.2h-1zM633,203.1h1V206.1h-1zM634,202.9h1V206.2h-1zM635,203.1h1V207.1h-1zM636,203.0h1V207.3h-1zM637,203.2h1V206.3h-1zM638,203.1h1V206.3h-1zM639,203.1h1V207.3h-1zM640,203.1h1V206.2h-1zM641,203.3h1V206.4h-1zM642,203.3h1V206.3h-1zM643,203.4h1V206.5h-1zM644,203.3h1V206.4h-1zM645,203.4h1V206.5h-1zM646,203.4h1V206.6h-1zM647,203.4h1V206.6h-1zM648,203.4h1V207.7h-1zM649,203.6h1V207.8h-1zM650,203.4h1V206.5h-1zM651,203.6h1V207.7h-1zM652,203.6h1V206.6h-1zM653,202.7h1V206.6h-1zM654,202.6h1V208.1h-1zM655,202.7h1V207.9h-1zM656,203.0h1V206.8h-1zM657,203.8h1V206.7h-1zM658,203.7h1V206.9h-1zM659,203.7h1V206.9h-1zM660,203.9h1V207.0h-1zM661,203.7h1V207.0h-1z" fill="#ff0080"/>
<polyline points="323.0,432.0 324.5,432.0 326.0,432.0 327.5,432.0 329.0,432.0 330.5,432.0 332.0,432.0 333.5,432.0 335.0,432.0 336.5,432.0 338.0,432.0 339.5,432.0 341.0,432.0 342.5,432.0 344.0,432.0 345.5,432.0 347.0,432.0 348.5,432.0 350.0,432.0 351.5,432.0 353.0,432.0 354.5,432.0 356.0,432.0 357.5,432.0 359.0,432.0 360.5,432.0 362.0,432.0 363.5,432.0 365.0,432.0 366.5,432.0 368.0,432.0 369.5,432.0 371.0,432.0 372.5,432.0 374.0,432.0 375.5,432.0 377.0,432.0 378.5,432.0 380.0,432.0 381.5,432.0 383.0,432.0 384.5,432.0 386.0,432.0 387.5,432.0 389.0,432.0 390.5,432.0 392.0,432.0 393.5,432.0 395.0,432.0 396.5,432.0 398.0,432.0 399.5,432.0 401.0,432.0 402.5,432.0 404.0,432.0 405.5,432.0 407.0,432.0 408.5,432.0 410.0,432.0 411.5,432.0 413.0,432.0 414.5,432.0 416.0,432.0 417.5,432.0 419.0,432.0 420.5,432.0 422.0,432.0 423.5,432.0 425.0,432.0 426.5,432.0 428.0,432.0 429.5,432.0 431.0,432.0 432.5,432.0 434.0,432.0 435.5,432.0 437.0,432.0 438.5,432.0 440.0,432.0 441.5,432.0 442.2,430.7 443.1,428.9 443.6,427.7 444.2,425.8 444.7,424.6 444.9,423.1 445.8,421.6 446.2,420.1 446.8,419.1 447.1,417.6 447.6,415.9 447.5,414.5 448.1,412.5 448.1,411.2 448.4,409.4 448.3,408.3 448.4,406.3 448.2,405.2 448.6,403.6 448.5,401.9 449.1,400.4 449.0,398.6 448.9,397.0 449.1,395.7 449.4,394.3 449.6,392.6 450.1,390.8 450.1,389.7 450.3,387.8 450.3,386.5 450.4,384.8 450.8,383.3 450.7,381.8 451.4,380.1 451.2,378.9 451.5,377.0 451.4,375.7 451.7,374.0 452.0,372.5 452.0,371.0 452.4,369.3 452.1,368.2 452.7,366.1 452.6,364.9 452.6,363.4 453.1,361.8 452.9,360.0 452.9,358.5 452.9,357.0 453.5,355.6 453.6,354.3 453.7,352.3 453.9,350.8 453.9,349.7 454.0,347.9 454.0,346.4 453.9,344.6 454.4,343.1 454.6,341.6 454.5,340.0 455.0,338.6 455.0,337.0 455.3,335.5 455.4,334.2 455.7,332.2 455.7,330.6 455.9,328.9 456.3,327.7 456.3,326.1 456.4,324.8 456.5,323.1 457.1,321.5 457.1,319.9 457.5,318.6 457.2,316.8 457.5,315.4 457.7,313.6 457.9,312.4 458.2,310.7 458.1,309.2 458.4,307.7 458.2,306.0 459.0,304.8 458.8,303.2 458.9,301.4 459.2,300.0 459.3,298.6 459.1,297.0 459.7,295.6 459.9,293.8 459.9,292.7 459.5,291.0 460.1,289.3 460.1,288.2 460.3,286.5 459.9,285.0 460.1,283.5 460.3,281.9 460.5,280.7 460.9,278.9 460.4,277.7 460.7,276.2 461.1,274.2 461.1,272.9 461.0,271.4 461.2,270.0 461.3,268.3 461.4,266.8 461.3,265.3 461.7,263.8 461.5,262.4 461.6,261.2 462.1,259.2 461.9,257.9 462.1,256.3 462.2,255.0 462.1,253.4 462.2,251.9 462.4,250.5 462.8,249.1 462.6,247.4 462.6,245.9 463.1,244.3 462.9,242.9 463.3,241.5 463.1,239.6 463.2,238.1 463.1,236.5 463.5,235.2 463.8,233.6 463.7,232.2 463.7,230.9 463.8,229.0 464.4,227.5 464.7,226.2 464.5,224.8 465.1,223.0 464.8,221.2 465.4,220.2 465.5,218.6 465.8,216.7 465.6,215.6 466.2,213.8 466.2,212.3 466.2,210.5 466.4,209.4 466.4,207.5 466.4,206.0 466.6,204.5 467.0,202.8 466.9,201.2 467.4,200.0 467.5,198.0 467.3,196.5 467.8,195.3 467.6,193.5 467.8,191.8 467.8,190.4 468.3,189.0 468.2,187.1 468.4,185.3 468.7,184.1 468.6,182.4 468.6,180.8 469.0,179.5 469.3,177.6 469.6,176.5 469.7,174.7 469.7,173.1 470.2,171.6 470.3,169.9 469.9,168.5 470.2,166.8 470.3,165.2 470.7,163.6 470.8,162.4 471.0,160.7 471.2,159.1 471.5,157.9 471.4,156.2 471.9,154.9 472.2,153.0 472.3,151.8 472.4,150.0 472.8,148.6 472.4,146.8 472.7,145.2 472.9,143.7 473.2,141.9 473.1,140.3 473.1,138.8 473.1,137.5 473.5,135.6 473.3,134.1 473.6,132.5 473.3,131.3 473.4,129.8 473.6,128.3 473.6,126.2 473.9,124.8 474.0,123.3 474.3,121.6 474.2,119.9 474.3,118.4 474.7,117.4 474.9,115.5 475.0,114.2 475.4,112.3 475.5,110.9 475.8,109.6 475.8,108.0 476.0,106.1 476.0,104.6 476.0,103.6 476.4,101.8 476.6,100.0 476.7,98.6 476.8,97.2 477.1,95.2 477.4,93.8 477.8,92.1 477.6,90.7 477.9,88.8 478.3,87.7 478.6,86.0 478.6,84.5 478.8,82.7 478.8,80.9 478.9,79.7 479.0,78.1 479.5,76.7 479.3,74.9 479.3,73.3 479.5,72.2 480.0,70.5 479.7,69.1 480.3,67.2 480.2,66.0 480.5,64.6 480.5,62.7 481.0,61.1 480.8,59.5 481.3,57.7 481.5,56.2 481.6,54.3 481.9,52.9 481.9,50.6 482.1,49.3 482.7,47.8 482.6,45.6 483.1,44.2 483.2,42.7 483.4,40.8 483.4,39.4 483.9,37.9 483.9,36.0 484.4,34.5 484.2,32.9 484.5,31.1 484.7,29.2 484.7,27.8 485.0,26.0 485.5,24.3 485.5,22.8 485.5,21.3 486.0,19.5 486.4,17.8 487.1,16.4 487.3,14.9 488.1,13.7 489.3,12.7 491.0,11.8 493.2,13.0 493.4,14.4 493.5,16.3 494.0,17.7 493.9,19.5 494.2,20.9 494.8,22.3 495.0,23.9 495.1,25.6 495.5,27.5 495.4,28.7 496.0,30.5 496.2,32.2 496.4,34.0 496.3,35.8 496.5,37.1 497.0,39.1 497.3,40.7 497.1,41.9 497.4,43.9 497.7,45.4 497.9,46.7 497.9,48.5 498.1,50.1 498.4,51.6 498.3,53.4 498.5,55.1 498.7,56.3 498.9,57.9 498.9,59.7 498.6,61.3 499.0,63.0 498.9,64.3 499.5,66.2 499.2,67.5 499.5,68.9 499.3,70.5 499.8,72.3 499.8,73.7 499.8,75.0 499.9,76.7 500.2,78.3 499.9,79.6 500.0,81.1 500.3,82.7 500.5,84.0 500.4,85.5 500.9,87.0 500.8,88.7 501.2,90.5 500.9,91.8 501.4,93.2 501.5,95.0 501.6,96.3 501.7,98.0 501.6,99.9 501.9,101.3 502.0,103.0 502.0,104.5 502.1,106.0 502.2,107.8 502.6,109.6 502.5,111.3 502.6,112.8 503.0,114.4 503.2,115.9 503.1,117.4 503.5,118.9 503.5,120.6 503.7,121.9 503.7,123.8 504.0,125.5 504.4,127.0 504.2,128.5 504.9,130.0 504.8,131.7 504.8,133.5 505.1,134.7 505.4,136.7 505.7,137.9 505.6,139.7 505.9,141.6 506.5,143.2 506.7,144.4 506.7,146.1 507.3,147.9 507.7,149.7 508.0,151.2 508.6,153.2 509.3,154.5 510.3,155.8 511.5,156.8 513.1,156.9 514.7,156.9 516.3,157.0 517.9,157.0 519.5,157.1 521.0,157.2 522.6,157.2 524.2,157.3 525.8,157.3 527.4,157.4 529.0,157.4 530.6,157.5 532.2,158.2 533.8,158.9 535.4,159.6 537.0,160.2 538.6,160.9 540.2,161.6 541.4,162.6 542.6,163.5 543.8,164.5 544.9,165.5 546.1,166.4 547.3,167.4 548.5,168.6 549.7,169.9 551.0,171.1 552.2,172.3 553.4,173.6 554.6,174.8 555.8,175.7 557.0,176.7 558.2,177.6 559.5,178.5 560.7,179.5 561.9,180.4 563.4,181.3 564.8,182.2 566.3,183.2 567.7,184.1 569.2,185.0 570.7,186.0 572.1,187.0 573.6,188.0 575.0,189.0 576.5,190.0 578.0,190.7 579.6,191.3 581.1,191.9 582.6,192.6 584.2,193.2 585.7,193.9 587.2,194.5 588.7,195.1 590.2,195.7 591.8,196.3 593.3,196.9 594.8,197.5 596.3,197.9 597.9,198.2 599.4,198.6 600.9,199.0 602.5,199.3 604.0,199.7 605.5,200.1 607.0,200.5 608.5,200.9 610.1,201.3 611.6,201.7 613.1,202.1 614.6,202.3 616.1,202.5 617.7,202.8 619.2,203.0 620.7,203.2 622.2,203.4 623.7,203.6 625.3,203.8 626.8,203.9 628.3,204.1 629.9,204.3 631.4,204.5 633.0,204.5 634.5,204.6 636.1,204.6 637.6,204.7 639.2,204.7 640.7,204.8 642.3,204.8 643.9,204.9 645.5,204.9 647.1,205.0 648.7,205.0 650.3,205.1 651.9,205.1 653.5,205.2 655.1,205.2 656.7,205.2 658.3,205.3 659.9,205.3 661.5,205.4" fill="none" stroke="#ff0080" stroke-width="1.35" stroke-linejoin="round"/>
<path d="M323,149.2h1V154.9h-1zM324,149.2h1V155.0h-1zM325,149.2h1V154.9h-1zM326,149.2h1V154.8h-1zM327,149.2h1V155.3h-1zM328,149.2h1V155.8h-1zM329,149.2h1V155.8h-1zM330,149.2h1V155.8h-1zM331,149.2h1V154.7h-1zM332,149.2h1V154.7h-1zM333,149.2h1V154.8h-1zM334,149.2h1V155.1h-1zM335,149.2h1V153.2h-1zM336,149.2h1V154.8h-1zM337,149.2h1V155.5h-1zM338,149.3h1V153.2h-1zM339,149.2h1V153.2h-1zM340,149.2h1V153.1h-1zM341,149.3h1V155.1h-1zM342,149.2h1V155.3h-1zM343,149.3h1V155.4h-1zM344,149.2h1V155.3h-1zM345,149.3h1V155.3h-1zM346,149.3h1V154.6h-1zM347,149.3h1V154.6h-1zM348,149.2h1V154.8h-1zM349,149.3h1V154.8h-1zM350,149.2h1V154.7h-1zM351,149.2h1V153.2h-1zM352,149.2h1V153.2h-1zM353,149.2h1V153.1h-1zM354,149.3h1V153.2h-1zM355,149.3h1V154.8h-1zM356,149.2h1V154.8h-1zM357,149.3h1V154.8h-1zM358,149.2h1V153.2h-1zM359,149.2h1V153.2h-1zM360,149.2h1V153.2h-1zM361,149.2h1V155.1h-1zM362,149.3h1V155.3h-1zM363,149.3h1V155.8h-1zM364,149.2h1V155.8h-1zM365,149.3h1V154.7h-1zM366,149.3h1V155.1h-1zM367,149.2h1V154.6h-1zM368,149.2h1V154.7h-1zM369,149.2h1V153.2h-1zM370,149.3h1V154.8h-1zM371,149.2h1V155.1h-1zM372,149.3h1V153.1h-1zM373,149.3h1V154.6h-1zM374,149.3h1V153.1h-1zM375,149.2h1V153.2h-1zM376,149.3h1V153.1h-1zM377,149.2h1V153.2h-1zM378,149.2h1V153.1h-1zM379,149.3h1V153.1h-1zM380,149.2h1V153.2h-1zM381,149.3h1V153.1h-1zM382,149.2h1V153.2h-1zM383,149.2h1V153.2h-1zM384,149.3h1V153.1h-1zM385,149.2h1V154.9h-1zM386,149.2h1V155.1h-1zM387,149.3h1V153.2h-1zM388,149.2h1V153.2h-1zM389,149.2h1V153.2h-1zM390,149.2h1V153.2h-1zM391,149.3h1V154.7h-1zM392,149.2h1V155.0h-1zM393,149.2h1V153.2h-1zM394,149.2h1V153.1h-1zM395,149.2h1V153.2h-1zM396,149.3h1V153.2h-1zM397,149.2h1V155.3h-1zM398,149.3h1V155.3h-1zM399,149.2h1V154.8h-1zM400,149.3h1V154.7h-1zM401,149.2h1V154.6h-1zM402,149.3h1V155.6h-1zM403,149.2h1V154.5h-1zM404,149.2h1V154.6h-1zM405,149.2h1V155.7h-1zM406,149.2h1V155.8h-1zM407,149.2h1V153.1h-1zM408,149.2h1V155.9h-1zM409,149.3h1V156.0h-1zM410,149.2h1V155.5h-1zM411,149.2h1V154.7h-1zM412,149.3h1V154.6h-1zM413,149.2h1V155.5h-1zM414,149.2h1V153.1h-1zM415,149.2h1V153.1h-1zM416,149.2h1V155.8h-1zM417,149.2h1V155.4h-1zM418,149.2h1V155.3h-1zM419,149.3h1V154.9h-1zM420,149.2h1V155.0h-1zM421,149.2h1V155.0h-1zM422,149.3h1V153.2h-1zM423,149.2h1V154.6h-1zM424,149.2h1V154.6h-1zM425,149.2h1V155.1h-1zM426,149.2h1V155.1h-1zM427,149.3h1V153.2h-1zM428,149.2h1V154.9h-1zM429,149.2h1V155.0h-1zM430,149.2h1V155.1h-1zM431,149.2h1V153.2h-1zM432,149.2h1V153.2h-1zM433,149.3h1V153.1h-1zM434,149.2h1V153.2h-1zM435,149.2h1V153.1h-1zM436,149.2h1V153.1h-1zM437,149.2h1V155.0h-1zM438,149.2h1V155.1h-1zM439,149.5h1V155.5h-1zM440,150.5h1V153.7h-1zM441,151.0h1V155.0h-1zM442,152.5h1V156.8h-1zM443,154.3h1V158.8h-1zM444,156.1h1V161.3h-1zM445,158.7h1V165.3h-1zM446,162.6h1V170.6h-1zM447,166.7h1V174.4h-1zM448,171.8h1V180.7h-1zM449,178.1h1V188.8h-1zM450,186.1h1V196.5h-1zM451,193.9h1V202.5h-1zM452,199.8h1V204.9h-1zM453,202.4h1V207.3h-1zM454,204.7h1V209.7h-1zM455,207.3h1V211.2h-1zM456,208.5h1V212.5h-1zM457,208.6h1V213.9h-1zM458,209.6h1V217.0h-1zM459,210.7h1V217.5h-1zM460,213.2h1V217.5h-1zM461,214.2h1V218.6h-1zM462,215.3h1V219.1h-1zM463,216.0h1V221.2h-1zM464,216.3h1V220.1h-1zM465,216.8h1V220.3h-1zM466,217.1h1V220.8h-1zM467,217.6h1V220.9h-1zM468,217.7h1V221.2h-1zM469,217.8h1V221.1h-1zM470,217.9h1V221.2h-1zM471,218.0h1V221.5h-1zM472,218.3h1V223.4h-1zM473,216.7h1V221.7h-1zM474,216.8h1V221.6h-1zM475,216.9h1V221.8h-1zM476,217.6h1V222.0h-1zM477,217.6h1V221.9h-1zM478,217.7h1V222.4h-1zM479,218.9h1V222.5h-1zM480,219.2h1V224.5h-1zM481,219.6h1V224.8h-1zM482,218.1h1V223.3h-1zM483,218.4h1V223.6h-1zM484,218.7h1V223.6h-1zM485,220.4h1V224.3h-1zM486,221.1h1V226.1h-1zM487,219.5h1V226.8h-1zM488,220.2h1V227.3h-1zM489,220.5h1V228.4h-1zM490,222.6h1V228.1h-1zM491,224.0h1V229.5h-1zM492,226.1h1V230.7h-1zM493,228.3h1V232.7h-1zM494,230.3h1V234.7h-1zM495,232.5h1V236.9h-1zM496,234.5h1V240.3h-1zM497,237.0h1V241.8h-1zM498,239.5h1V244.4h-1zM499,242.1h1V247.5h-1zM500,245.0h1V250.5h-1zM501,248.1h1V253.7h-1zM502,251.2h1V257.1h-1zM503,254.6h1V260.6h-1zM504,258.2h1V264.3h-1zM505,262.0h1V268.4h-1zM506,265.9h1V272.4h-1zM507,269.4h1V276.1h-1zM508,273.0h1V279.4h-1zM509,277.1h1V283.0h-1zM510,280.4h1V286.2h-1zM511,283.8h1V289.6h-1zM512,287.2h1V292.8h-1zM513,290.6h1V296.2h-1zM514,293.9h1V299.6h-1zM515,297.3h1V303.1h-1zM516,300.5h1V306.1h-1zM517,303.7h1V309.2h-1zM518,306.7h1V312.0h-1zM519,309.7h1V315.0h-1zM520,312.7h1V318.1h-1zM521,315.6h1V322.1h-1zM522,318.6h1V325.0h-1zM523,321.7h1V326.9h-1zM524,324.6h1V330.7h-1zM525,327.7h1V332.9h-1zM526,330.7h1V336.0h-1zM527,333.5h1V339.0h-1zM528,336.5h1V341.9h-1zM529,339.5h1V344.8h-1zM530,342.5h1V347.9h-1zM531,344.9h1V350.7h-1zM532,348.3h1V353.5h-1zM533,351.0h1V356.1h-1zM534,353.8h1V359.0h-1zM535,356.5h1V361.7h-1zM536,359.3h1V364.8h-1zM537,361.4h1V367.1h-1zM538,363.4h1V367.9h-1zM539,365.6h1V369.9h-1zM540,367.5h1V371.9h-1zM541,369.7h1V373.7h-1zM542,371.3h1V375.5h-1zM543,373.1h1V377.2h-1zM544,374.7h1V379.0h-1zM545,376.7h1V381.8h-1zM546,378.3h1V383.5h-1zM547,379.9h1V384.4h-1zM548,381.4h1V386.0h-1zM549,382.9h1V386.7h-1zM550,384.4h1V388.3h-1zM551,385.9h1V389.0h-1zM552,386.6h1V389.7h-1zM553,387.4h1V390.5h-1zM554,388.1h1V391.3h-1zM555,388.0h1V392.8h-1zM556,389.0h1V393.3h-1zM557,389.4h1V395.1h-1zM558,388.8h1V395.7h-1zM559,389.2h1V396.7h-1zM560,389.8h1V397.4h-1zM561,391.8h1V396.5h-1zM562,392.5h1V396.9h-1zM563,392.8h1V397.1h-1zM564,393.3h1V397.4h-1zM565,393.6h1V397.8h-1zM566,392.8h1V397.9h-1zM567,392.9h1V398.4h-1zM568,393.4h1V398.6h-1zM569,394.8h1V399.1h-1zM570,395.1h1V399.2h-1zM571,393.5h1V399.2h-1zM572,393.9h1V399.6h-1zM573,393.9h1V399.6h-1zM574,394.3h1V400.0h-1zM575,394.3h1V399.9h-1zM576,394.5h1V401.7h-1zM577,396.4h1V400.4h-1zM578,396.6h1V400.7h-1zM579,396.6h1V400.6h-1zM580,396.7h1V400.8h-1zM581,395.9h1V400.9h-1zM582,395.8h1V400.8h-1zM583,396.1h1V400.9h-1zM584,397.1h1V400.9h-1zM585,397.1h1V401.1h-1zM586,397.1h1V401.0h-1zM587,397.2h1V401.2h-1zM588,397.4h1V401.1h-1zM589,397.3h1V401.3h-1zM590,397.4h1V401.4h-1zM591,397.5h1V401.5h-1zM592,397.5h1V401.5h-1zM593,397.7h1V401.6h-1zM594,396.6h1V401.5h-1zM595,396.9h1V401.6h-1zM596,396.9h1V401.6h-1zM597,397.7h1V401.7h-1zM598,398.0h1V401.9h-1zM599,398.0h1V401.9h-1zM600,398.2h1V402.0h-1zM601,396.6h1V401.9h-1zM602,396.5h1V403.8h-1zM603,398.0h1V402.1h-1zM604,398.2h1V401.9h-1zM605,398.0h1V402.2h-1zM606,398.2h1V402.0h-1zM607,397.2h1V402.1h-1zM608,397.0h1V402.2h-1zM609,397.1h1V402.0h-1zM610,398.2h1V402.2h-1zM611,398.3h1V402.2h-1zM612,398.2h1V402.3h-1zM613,398.3h1V402.2h-1zM614,398.3h1V402.1h-1zM615,398.4h1V402.3h-1zM616,398.2h1V402.3h-1zM617,397.3h1V402.3h-1zM618,397.1h1V402.3h-1zM619,397.1h1V402.5h-1zM620,397.1h1V402.5h-1zM621,397.3h1V402.3h-1zM622,397.3h1V402.5h-1zM623,398.6h1V404.0h-1zM624,398.4h1V402.5h-1zM625,398.6h1V402.3h-1zM626,398.4h1V402.6h-1zM627,398.5h1V402.7h-1zM628,398.7h1V402.4h-1zM629,398.5h1V402.5h-1zM630,398.6h1V402.5h-1zM631,398.8h1V402.6h-1zM632,398.8h1V402.5h-1zM633,398.6h1V402.5h-1zM634,398.6h1V402.5h-1zM635,398.7h1V402.7h-1zM636,398.6h1V402.8h-1zM637,398.6h1V402.8h-1zM638,398.8h1V402.7h-1zM639,398.8h1V404.0h-1zM640,398.9h1V404.0h-1zM641,398.9h1V402.7h-1zM642,399.0h1V402.8h-1zM643,398.9h1V402.9h-1zM644,398.9h1V402.8h-1zM645,399.1h1V402.9h-1zM646,398.9h1V403.1h-1zM647,399.2h1V403.2h-1zM648,399.1h1V403.0h-1zM649,399.1h1V403.0h-1zM650,399.2h1V403.0h-1zM651,399.3h1V403.2h-1zM652,399.3h1V403.0h-1zM653,398.5h1V403.1h-1zM654,398.6h1V403.2h-1zM655,399.4h1V403.2h-1zM656,399.2h1V403.2h-1zM657,399.5h1V403.3h-1zM658,399.3h1V403.4h-1zM659,398.5h1V403.3h-1zM660,398.5h1V403.3h-1zM661,398.5h1V403.4h-1z" fill="#0000ff"/>
<polyline points="323.0,151.2 324.5,151.2 326.0,151.2 327.5,151.2 329.0,151.2 330.5,151.2 332.0,151.2 333.5,151.2 335.0,151.2 336.5,151.2 338.0,151.2 339.5,151.2 341.0,151.2 342.5,151.2 344.0,151.2 345.5,151.2 347.0,151.2 348.5,151.2 350.0,151.2 351.5,151.2 353.0,151.2 354.5,151.2 356.0,151.2 357.5,151.2 359.0,151.2 360.5,151.2 362.0,151.2 363.5,151.2 365.0,151.2 366.5,151.2 368.0,151.2 369.5,151.2 371.0,151.2 372.5,151.2 374.0,151.2 375.5,151.2 377.0,151.2 378.5,151.2 380.0,151.2 381.5,151.2 383.0,151.2 384.5,151.2 386.0,151.2 387.5,151.2 389.0,151.2 390.5,151.2 392.0,151.2 393.5,151.2 395.0,151.2 396.5,151.2 398.0,151.2 399.5,151.2 401.0,151.2 402.5,151.2 404.0,151.2 405.5,151.2 407.0,151.2 408.5,151.2 410.0,151.2 411.5,151.2 413.0,151.2 414.5,151.2 416.0,151.2 417.5,151.2 419.0,151.2 420.5,151.2 422.0,151.2 423.5,151.2 425.0,151.2 426.5,151.2 428.0,151.2 429.5,151.2 431.0,151.2 432.5,151.2 434.0,151.2 435.5,151.2 437.0,151.2 438.5,151.2 441.2,152.5 441.8,154.0 442.9,155.4 443.6,156.5 444.0,158.0 445.0,160.0 445.1,161.4 446.0,163.0 446.3,164.8 446.5,166.6 447.4,168.4 447.5,170.0 447.4,171.4 447.7,173.4 448.5,174.9 448.8,176.4 449.1,178.0 448.8,179.6 449.2,181.1 449.5,182.4 449.7,184.0 449.7,185.7 449.9,187.1 450.4,189.3 450.7,190.9 450.5,192.4 450.8,194.3 450.8,196.0 451.4,197.4 451.5,199.4 452.0,201.1 452.4,202.5 453.3,204.0 453.5,205.5 454.2,206.8 455.0,208.5 455.7,209.6 456.5,211.1 458.1,212.2 458.7,213.5 460.1,215.1 460.8,215.7 462.4,217.3 464.3,218.2 465.8,218.4 467.4,219.3 469.0,219.8 471.0,219.9 472.2,220.1 474.0,220.1 475.4,220.5 477.4,220.3 479.0,220.8 480.1,221.1 481.9,221.4 483.2,221.8 484.8,222.0 486.3,222.7 487.9,223.8 489.8,224.5 490.6,225.9 491.6,227.9 493.0,229.5 493.8,231.0 494.1,232.4 495.0,233.6 495.9,235.4 496.1,237.2 496.8,238.1 497.5,239.8 497.9,241.1 498.8,242.6 499.2,244.3 499.4,245.4 500.2,247.4 500.7,248.4 501.4,249.8 501.7,251.4 501.7,252.8 502.9,254.5 502.7,255.9 503.6,257.0 503.8,258.5 504.0,259.9 504.6,261.5 504.7,262.8 505.0,264.3 505.4,266.1 506.1,267.0 506.6,268.6 506.8,270.3 507.0,271.6 507.5,273.2 507.9,274.4 508.6,275.8 509.0,277.3 509.1,278.9 509.3,280.2 510.0,281.9 510.5,283.4 511.3,285.4 511.1,286.7 511.7,288.6 512.5,290.0 512.8,291.9 513.5,292.8 513.5,294.5 514.6,296.0 514.8,297.7 515.2,299.6 515.5,301.1 516.2,302.5 516.8,304.3 517.2,305.8 517.7,307.0 518.3,308.7 519.0,309.6 518.9,311.5 519.9,313.0 520.0,314.8 520.5,315.6 521.2,317.4 521.3,318.5 522.4,320.1 522.9,322.2 523.6,323.6 523.6,325.0 524.5,326.6 524.5,328.1 524.9,329.2 526.1,330.9 526.2,332.4 526.5,334.1 527.2,335.0 527.3,336.7 528.1,338.7 528.5,340.1 529.5,341.3 530.1,343.0 530.2,344.1 530.7,346.1 531.2,347.3 531.8,348.6 532.2,350.3 532.6,351.9 533.0,353.6 533.7,354.6 534.6,356.3 535.4,358.0 535.7,359.7 536.2,361.0 536.7,362.6 537.7,363.8 538.7,364.9 539.3,366.4 540.0,367.9 540.0,369.6 541.1,371.0 542.3,372.3 542.8,374.0 543.4,375.4 544.0,376.8 545.5,378.1 546.1,379.7 546.7,380.6 547.9,382.1 548.9,383.6 549.1,385.0 550.6,386.2 551.1,387.2 552.6,388.3 553.8,389.2 554.9,389.8 556.1,390.9 557.4,392.0 559.3,392.4 560.8,393.7 562.3,394.6 563.8,395.1 565.3,395.6 566.8,396.0 568.3,396.5 569.8,397.0 571.5,397.3 573.3,397.6 575.0,398.0 576.8,398.3 578.5,398.6 580.0,398.7 581.6,398.8 583.1,398.9 584.6,399.0 586.2,399.1 587.7,399.2 589.2,399.3 590.8,399.4 592.3,399.5 593.9,399.6 595.4,399.7 596.9,399.8 598.5,399.9 600.0,400.0 601.5,400.0 603.1,400.1 604.6,400.1 606.2,400.1 607.7,400.2 609.2,400.2 610.8,400.2 612.3,400.2 613.8,400.3 615.4,400.3 616.9,400.3 618.5,400.4 620.0,400.4 621.5,400.4 623.1,400.5 624.6,400.5 626.2,400.5 627.7,400.6 629.2,400.6 630.8,400.6 632.3,400.6 633.8,400.7 635.4,400.7 636.9,400.7 638.5,400.8 640.0,400.8 641.6,400.9 643.1,400.9 644.7,400.9 646.3,401.0 647.9,401.1 649.4,401.1 651.0,401.1 652.6,401.2 654.1,401.2 655.7,401.3 657.3,401.4 658.9,401.4 660.4,401.4 662.0,401.5" fill="none" stroke="#0000ff" stroke-width="1.9" stroke-linejoin="round"/>
<polyline points="439,150.8 486.8,150.8 505.5,264" fill="none" stroke="#3a3a3a" stroke-width="1.25" stroke-dasharray="6 4.3"/>
<line x1="373" y1="218.6" x2="465" y2="218.6" stroke="#111" stroke-width="1.5"/>
<line x1="409.2" y1="160" x2="409.2" y2="211" stroke="#111" stroke-width="1.5"/>
<polygon points="409.2,153.3 413.6,164 409.2,161.6 404.8,164" fill="#111"/>
<polygon points="409.2,218.2 413.6,207.6 409.2,210 404.8,207.6" fill="#111"/>
<line x1="415" y1="250.8" x2="464.4" y2="250.8" stroke="#111" stroke-width="1.5"/>
<line x1="413" y1="396.4" x2="449.3" y2="396.4" stroke="#111" stroke-width="1.5"/>
<line x1="429" y1="258" x2="429" y2="390" stroke="#111" stroke-width="1.5"/>
<polygon points="429,251.6 433.3,260.2 429,258.0 424.7,260.2" fill="#111"/>
<polygon points="429,395.8 433.3,387.2 429,389.4 424.7,387.2" fill="#111"/>
<line x1="448.6" y1="395.7" x2="448.6" y2="421.5" stroke="#111" stroke-width="1.5"/>
<line x1="463.7" y1="250.1" x2="463.7" y2="421.5" stroke="#111" stroke-width="1.5"/>
<polygon points="449.3,418.2 456.2,414.6 463,418.2 456.2,421.8" fill="#111"/>
<text transform="translate(405.35,332.75) scale(1.019,1)" font-family="Liberation Serif" font-style="normal" font-weight="normal" font-size="15.32" fill="#4a4a4a" >d</text>
<text transform="translate(414.57,332.90) scale(1.323,1)" font-family="Liberation Serif" font-style="normal" font-weight="normal" font-size="16.06" fill="#4a4a4a" >i</text>
<text transform="translate(454.08,440.54) scale(0.932,1)" font-family="Liberation Serif" font-style="normal" font-weight="normal" font-size="16.03" fill="#4a4a4a" >d</text>
<text transform="translate(462.66,440.54) scale(1.459,1)" font-family="Liberation Serif" font-style="normal" font-weight="normal" font-size="16.35" fill="#4a4a4a" >t</text>
<text transform="translate(373.57,193.72) scale(0.628,1)" font-family="Liberation Serif" font-style="normal" font-weight="normal" font-size="18.05" fill="#4a4a4a" >U</text>
<text transform="translate(382.35,193.73) scale(1.124,1)" font-family="Liberation Serif" font-style="normal" font-weight="normal" font-size="16.67" fill="#4a4a4a" >s</text>
<line x1="301.4" y1="189.4" x2="364.5" y2="189.4" stroke="#ff0000" stroke-width="1.3"/>
<polyline points="353.7,183.2 365,189.4 353.7,195.8" fill="none" stroke="#ff0000" stroke-width="1.3"/>
<text transform="translate(107.22,202.97) scale(0.842,1)" font-family="Liberation Serif" font-style="italic" font-weight="normal" font-size="32.78" fill="#000" >U</text>
<text transform="translate(130.04,202.98) scale(1.146,1)" font-family="Liberation Serif" font-style="italic" font-weight="normal" font-size="31.67" fill="#000" >s</text>
<text transform="translate(188.27,202.90) scale(0.846,1)" font-family="Liberation Serif" font-style="italic" font-weight="normal" font-size="32.06" fill="#000" >L</text>
<text transform="translate(204.65,202.98) scale(1.119,1)" font-family="Liberation Serif" font-style="italic" font-weight="normal" font-size="31.67" fill="#000" >s</text>
<text transform="translate(251.01,178.59) scale(1.047,1)" font-family="Liberation Serif" font-style="italic" font-weight="normal" font-size="31.49" fill="#000" >d</text>
<text transform="translate(268.38,178.90) scale(1.107,1)" font-family="Liberation Serif" font-style="italic" font-weight="normal" font-size="31.52" fill="#000" >i</text>
<text transform="translate(250.02,224.28) scale(1.015,1)" font-family="Liberation Serif" font-style="italic" font-weight="normal" font-size="32.06" fill="#000" >d</text>
<text transform="translate(267.14,224.28) scale(1.212,1)" font-family="Liberation Serif" font-style="italic" font-weight="normal" font-size="32.35" fill="#000" >t</text>
<g stroke="#000" stroke-width="2"><line x1="155.9" y1="190.4" x2="175.7" y2="190.4"/><line x1="155.9" y1="197.6" x2="175.7" y2="197.6"/></g>
<line x1="248.9" y1="193.8" x2="281" y2="193.8" stroke="#000" stroke-width="2.1"/>
<g fill="#000"><path d="M234.75,193.90L235.65,189.30A1.25,1.25 0 0 0 233.15,189.30L234.05,193.90Z"/><path d="M234.58,194.20L239.01,192.68A1.25,1.25 0 0 0 237.76,190.52L234.22,193.60Z"/><path d="M234.22,194.20L237.76,197.28A1.25,1.25 0 0 0 239.01,195.12L234.58,193.60Z"/><path d="M234.05,193.90L233.15,198.50A1.25,1.25 0 0 0 235.65,198.50L234.75,193.90Z"/><path d="M234.58,193.60L231.04,190.52A1.25,1.25 0 0 0 229.79,192.68L234.22,194.20Z"/><path d="M234.22,193.60L229.79,195.12A1.25,1.25 0 0 0 231.04,197.28L234.58,194.20Z"/></g>
<line x1="37" y1="285.4" x2="37" y2="372.5" stroke="#151515" stroke-width="1.6"/>
<line x1="37" y1="382.3" x2="37" y2="462.8" stroke="#151515" stroke-width="1.6"/>
<line x1="36.2" y1="462.0" x2="185.6" y2="462.0" stroke="#151515" stroke-width="1.6"/>
<line x1="36.2" y1="286.2" x2="94" y2="286.2" stroke="#151515" stroke-width="1.6"/>
<line x1="125.3" y1="286.2" x2="276.1" y2="286.2" stroke="#151515" stroke-width="1.6"/>
<path d="M94,286.2 a5.22,5.8 0 0 1 10.43,0 a5.22,5.8 0 0 1 10.43,0 a5.22,5.8 0 0 1 10.43,0" stroke="#151515" stroke-width="1.6" fill="none" stroke-linejoin="miter"/>
<rect x="22.1" y="372.9" width="30" height="4.5" fill="none" stroke="#151515" stroke-width="1.5"/>
<line x1="21.4" y1="382.5" x2="52.6" y2="382.5" stroke="#151515" stroke-width="1.7"/>
<line x1="275.3" y1="286.2" x2="275.3" y2="303.3" stroke="#151515" stroke-width="1.6"/>
<line x1="275.3" y1="343.4" x2="275.3" y2="363.6" stroke="#151515" stroke-width="1.6"/>
<line x1="184.8" y1="363.6" x2="276.1" y2="363.6" stroke="#151515" stroke-width="1.6"/>
<path d="M275.3,303.3 a5.2,5.03 0 0 1 0,10.03 a5.2,5.03 0 0 1 0,10.03 a5.2,5.03 0 0 1 0,10.03 a5.2,5.03 0 0 1 0,10.03" stroke="#151515" stroke-width="1.6" fill="none" stroke-linejoin="miter"/>
<line x1="184.8" y1="285.4" x2="184.8" y2="304.7" stroke="#151515" stroke-width="1.6"/>
<line x1="184.8" y1="334.7" x2="184.8" y2="394.8" stroke="#151515" stroke-width="1.6"/>
<line x1="184.8" y1="424.7" x2="184.8" y2="462.8" stroke="#151515" stroke-width="1.6"/>
<line x1="184.8" y1="304.7" x2="174.7" y2="313.5" stroke="#151515" stroke-width="1.6"/>
<line x1="174.7" y1="326.2" x2="184.8" y2="334.7" stroke="#151515" stroke-width="1.6"/>
<line x1="174.7" y1="304.7" x2="174.7" y2="335.5" stroke="#151515" stroke-width="1.6"/>
<line x1="169.6" y1="314.4" x2="169.6" y2="326.2" stroke="#151515" stroke-width="1.6"/>
<line x1="139.4" y1="320.2" x2="169.6" y2="320.2" stroke="#151515" stroke-width="1.6"/>
<line x1="179.0" y1="334.7" x2="185.6" y2="334.7" stroke="#151515" stroke-width="1.6"/>
<line x1="184.8" y1="329.0" x2="184.8" y2="334.7" stroke="#151515" stroke-width="1.6"/>
<line x1="184.8" y1="300.3" x2="205.7" y2="300.3" stroke="#151515" stroke-width="1.6"/>
<line x1="204.9" y1="300.3" x2="204.9" y2="342" stroke="#151515" stroke-width="1.6"/>
<line x1="184.8" y1="342" x2="205.7" y2="342" stroke="#151515" stroke-width="1.6"/>
<line x1="196.8" y1="310" x2="212.3" y2="310" stroke="#151515" stroke-width="1.6"/>
<path d="M204.9,310 L197.4,325 L212.0,325 Z" stroke="#151515" stroke-width="1.6" fill="none" stroke-linejoin="miter"/>
<circle cx="139.4" cy="340.4" r="10.1" fill="none" stroke="#151515" stroke-width="1.5"/>
<line x1="139.4" y1="319.4" x2="139.4" y2="330.3" stroke="#151515" stroke-width="1.6"/>
<line x1="139.4" y1="350.5" x2="139.4" y2="357.7" stroke="#151515" stroke-width="1.6"/>
<line x1="138.6" y1="356.9" x2="184.8" y2="356.9" stroke="#151515" stroke-width="1.6"/>
<line x1="135.8" y1="335.4" x2="143.0" y2="335.4" stroke="#151515" stroke-width="1.4"/>
<line x1="135.8" y1="344.8" x2="143.0" y2="344.8" stroke="#151515" stroke-width="1.4"/>
<line x1="139.4" y1="341.2" x2="139.4" y2="348.4" stroke="#151515" stroke-width="1.4"/>
<line x1="196.4" y1="293.3" x2="234.4" y2="293.3" stroke="#151515" stroke-width="1.6"/>
<line x1="196.4" y1="348" x2="236.9" y2="348" stroke="#151515" stroke-width="1.6"/>
<line x1="228.9" y1="305" x2="228.9" y2="312.6" stroke="#151515" stroke-width="1.6"/>
<line x1="228.9" y1="330.2" x2="228.9" y2="338" stroke="#151515" stroke-width="1.6"/>
<polygon points="228.9,298.8 234.5,310.8 228.9,308.2 223.3,310.8" fill="#151515"/>
<polygon points="228.9,343.6 234.5,331.4 228.9,334.0 223.3,331.4" fill="#151515"/>
<line x1="184.8" y1="394.8" x2="174.9" y2="401.5" stroke="#151515" stroke-width="1.6"/>
<line x1="174.9" y1="415.6" x2="184.8" y2="424.7" stroke="#151515" stroke-width="1.6"/>
<line x1="174.9" y1="394.8" x2="174.9" y2="425.5" stroke="#151515" stroke-width="1.6"/>
<line x1="169.9" y1="404.5" x2="169.9" y2="415.2" stroke="#151515" stroke-width="1.6"/>
<line x1="159.1" y1="409.8" x2="169.9" y2="409.8" stroke="#151515" stroke-width="1.6"/>
<line x1="179.5" y1="424.7" x2="185.6" y2="424.7" stroke="#151515" stroke-width="1.6"/>
<line x1="184.8" y1="419.7" x2="184.8" y2="424.7" stroke="#151515" stroke-width="1.6"/>
<line x1="184.8" y1="390.2" x2="205.5" y2="390.2" stroke="#151515" stroke-width="1.6"/>
<line x1="204.7" y1="390.2" x2="204.7" y2="432.5" stroke="#151515" stroke-width="1.6"/>
<line x1="184.8" y1="432.5" x2="205.5" y2="432.5" stroke="#151515" stroke-width="1.6"/>
<line x1="197.3" y1="399.8" x2="213" y2="399.8" stroke="#151515" stroke-width="1.6"/>
<path d="M204.7,399.8 L197.6,414.7 L212.0,414.7 Z" stroke="#151515" stroke-width="1.6" fill="none" stroke-linejoin="miter"/>
<line x1="184.8" y1="377.9" x2="237.9" y2="377.9" stroke="#151515" stroke-width="1.6"/>
<line x1="184.8" y1="437.7" x2="237.9" y2="437.7" stroke="#151515" stroke-width="1.6"/>
<line x1="230.3" y1="378.5" x2="230.3" y2="437" stroke="#151515" stroke-width="1.6"/>
<path d="M224.5,384.5 L230.3,378.6 L236.1,384.5" stroke="#151515" stroke-width="1.6" fill="none" stroke-linejoin="miter"/>
<path d="M224.5,431.5 L230.3,437.1 L236.1,431.5" stroke="#151515" stroke-width="1.6" fill="none" stroke-linejoin="miter"/>
<ellipse cx="187.1" cy="452.5" rx="12.0" ry="7.5" fill="none" stroke="#151515" stroke-width="1.5"/>
<line x1="204.2" y1="455.7" x2="240.3" y2="465.8" stroke="#151515" stroke-width="1.6"/>
<path d="M233.4,458.2 L240.6,465.8 L232.5,470.4" stroke="#151515" stroke-width="1.6" fill="none" stroke-linejoin="miter"/>
<line x1="80.6" y1="275.2" x2="91.9" y2="275.2" stroke="#151515" stroke-width="1.4"/>
<line x1="86.3" y1="270.6" x2="86.3" y2="281.2" stroke="#151515" stroke-width="1.4"/>
<line x1="125.2" y1="275.2" x2="135.9" y2="275.2" stroke="#151515" stroke-width="1.4"/>
<line x1="47.9" y1="359" x2="58.5" y2="359" stroke="#151515" stroke-width="1.4"/>
<line x1="53.3" y1="353.5" x2="53.3" y2="364.5" stroke="#151515" stroke-width="1.4"/>
<line x1="47.9" y1="398.6" x2="58.5" y2="398.6" stroke="#151515" stroke-width="1.4"/>
<path d="M190.3,291.5 L190.3,344 C190.3,350 186,351.5 180,352 C172,352.6 167.4,356 167.4,366 L167.4,387" fill="none" stroke="#ff0000" stroke-width="1.7"/>
<path d="M267.7,301.4 L267.7,347 C267.7,350.5 265.5,352.5 261,354.5 C258,355.9 256,356.6 251,356.6 L199,356.6 C184,356.6 177.4,363 177.4,373 L177.4,378" fill="none" stroke="#ff0000" stroke-width="1.7"/>
<polygon points="167.2,396.2 162.2,386.5 172.2,386.5" fill="#ff0000"/>
<polygon points="177.1,386.5 172.1,376.6 182.1,376.6" fill="#ff0000"/>
<text transform="translate(99.62,306.50) scale(0.935,1)" font-family="Liberation Sans" font-style="normal" font-weight="normal" font-size="21.16" fill="#17aa4b" stroke="#17aa4b" stroke-width="0.45">L</text>
<text transform="translate(111.20,306.49) scale(0.788,1)" font-family="Liberation Sans" font-style="normal" font-weight="normal" font-size="21.28" fill="#17aa4b" stroke="#17aa4b" stroke-width="0.35">s</text>
<text transform="translate(286.50,330.70) scale(0.958,1)" font-family="Liberation Sans" font-style="normal" font-weight="normal" font-size="20.87" fill="#a04aab" stroke="#a04aab" stroke-width="0.45">L</text>
<text transform="translate(219.74,328.49) scale(0.786,1)" font-family="Liberation Sans" font-style="normal" font-weight="normal" font-size="21.43" fill="#3741cd" stroke="#3741cd" stroke-width="0.45">U</text>
<text transform="translate(231.46,328.54) scale(0.672,1)" font-family="Liberation Sans" font-style="normal" font-weight="normal" font-size="16.06" fill="#3741cd" stroke="#3741cd" stroke-width="0.4">C</text>
<text transform="translate(239.78,328.70) scale(0.700,1)" font-family="Liberation Sans" font-style="normal" font-weight="normal" font-size="16.52" fill="#3741cd" stroke="#3741cd" stroke-width="0.4">E</text>
<text transform="translate(244.53,412.40) scale(0.707,1)" font-family="Liberation Sans" font-style="normal" font-weight="normal" font-size="20.29" fill="#3741cd" stroke="#3741cd" stroke-width="0.4">V</text>
<text transform="translate(254.30,412.26) scale(0.871,1)" font-family="Liberation Sans" font-style="normal" font-weight="normal" font-size="13.66" fill="#3741cd" stroke="#3741cd" stroke-width="0.4">C</text>
<text transform="translate(262.29,412.40) scale(0.901,1)" font-family="Liberation Sans" font-style="normal" font-weight="normal" font-size="14.06" fill="#3741cd" stroke="#3741cd" stroke-width="0.4">E</text>
<text transform="translate(244.13,474.30) scale(1.202,1)" font-family="Liberation Sans" font-style="normal" font-weight="normal" font-size="21.01" fill="#111" >I</text>
<text transform="translate(252.92,474.10) scale(0.851,1)" font-family="Liberation Sans" font-style="normal" font-weight="normal" font-size="20.00" fill="#111" >c</text>
<text transform="translate(4.43,383.98) scale(0.620,1)" font-family="Liberation Serif" font-style="normal" font-weight="normal" font-size="21.80" fill="#505050" >U</text>
</svg>
</body></html>
